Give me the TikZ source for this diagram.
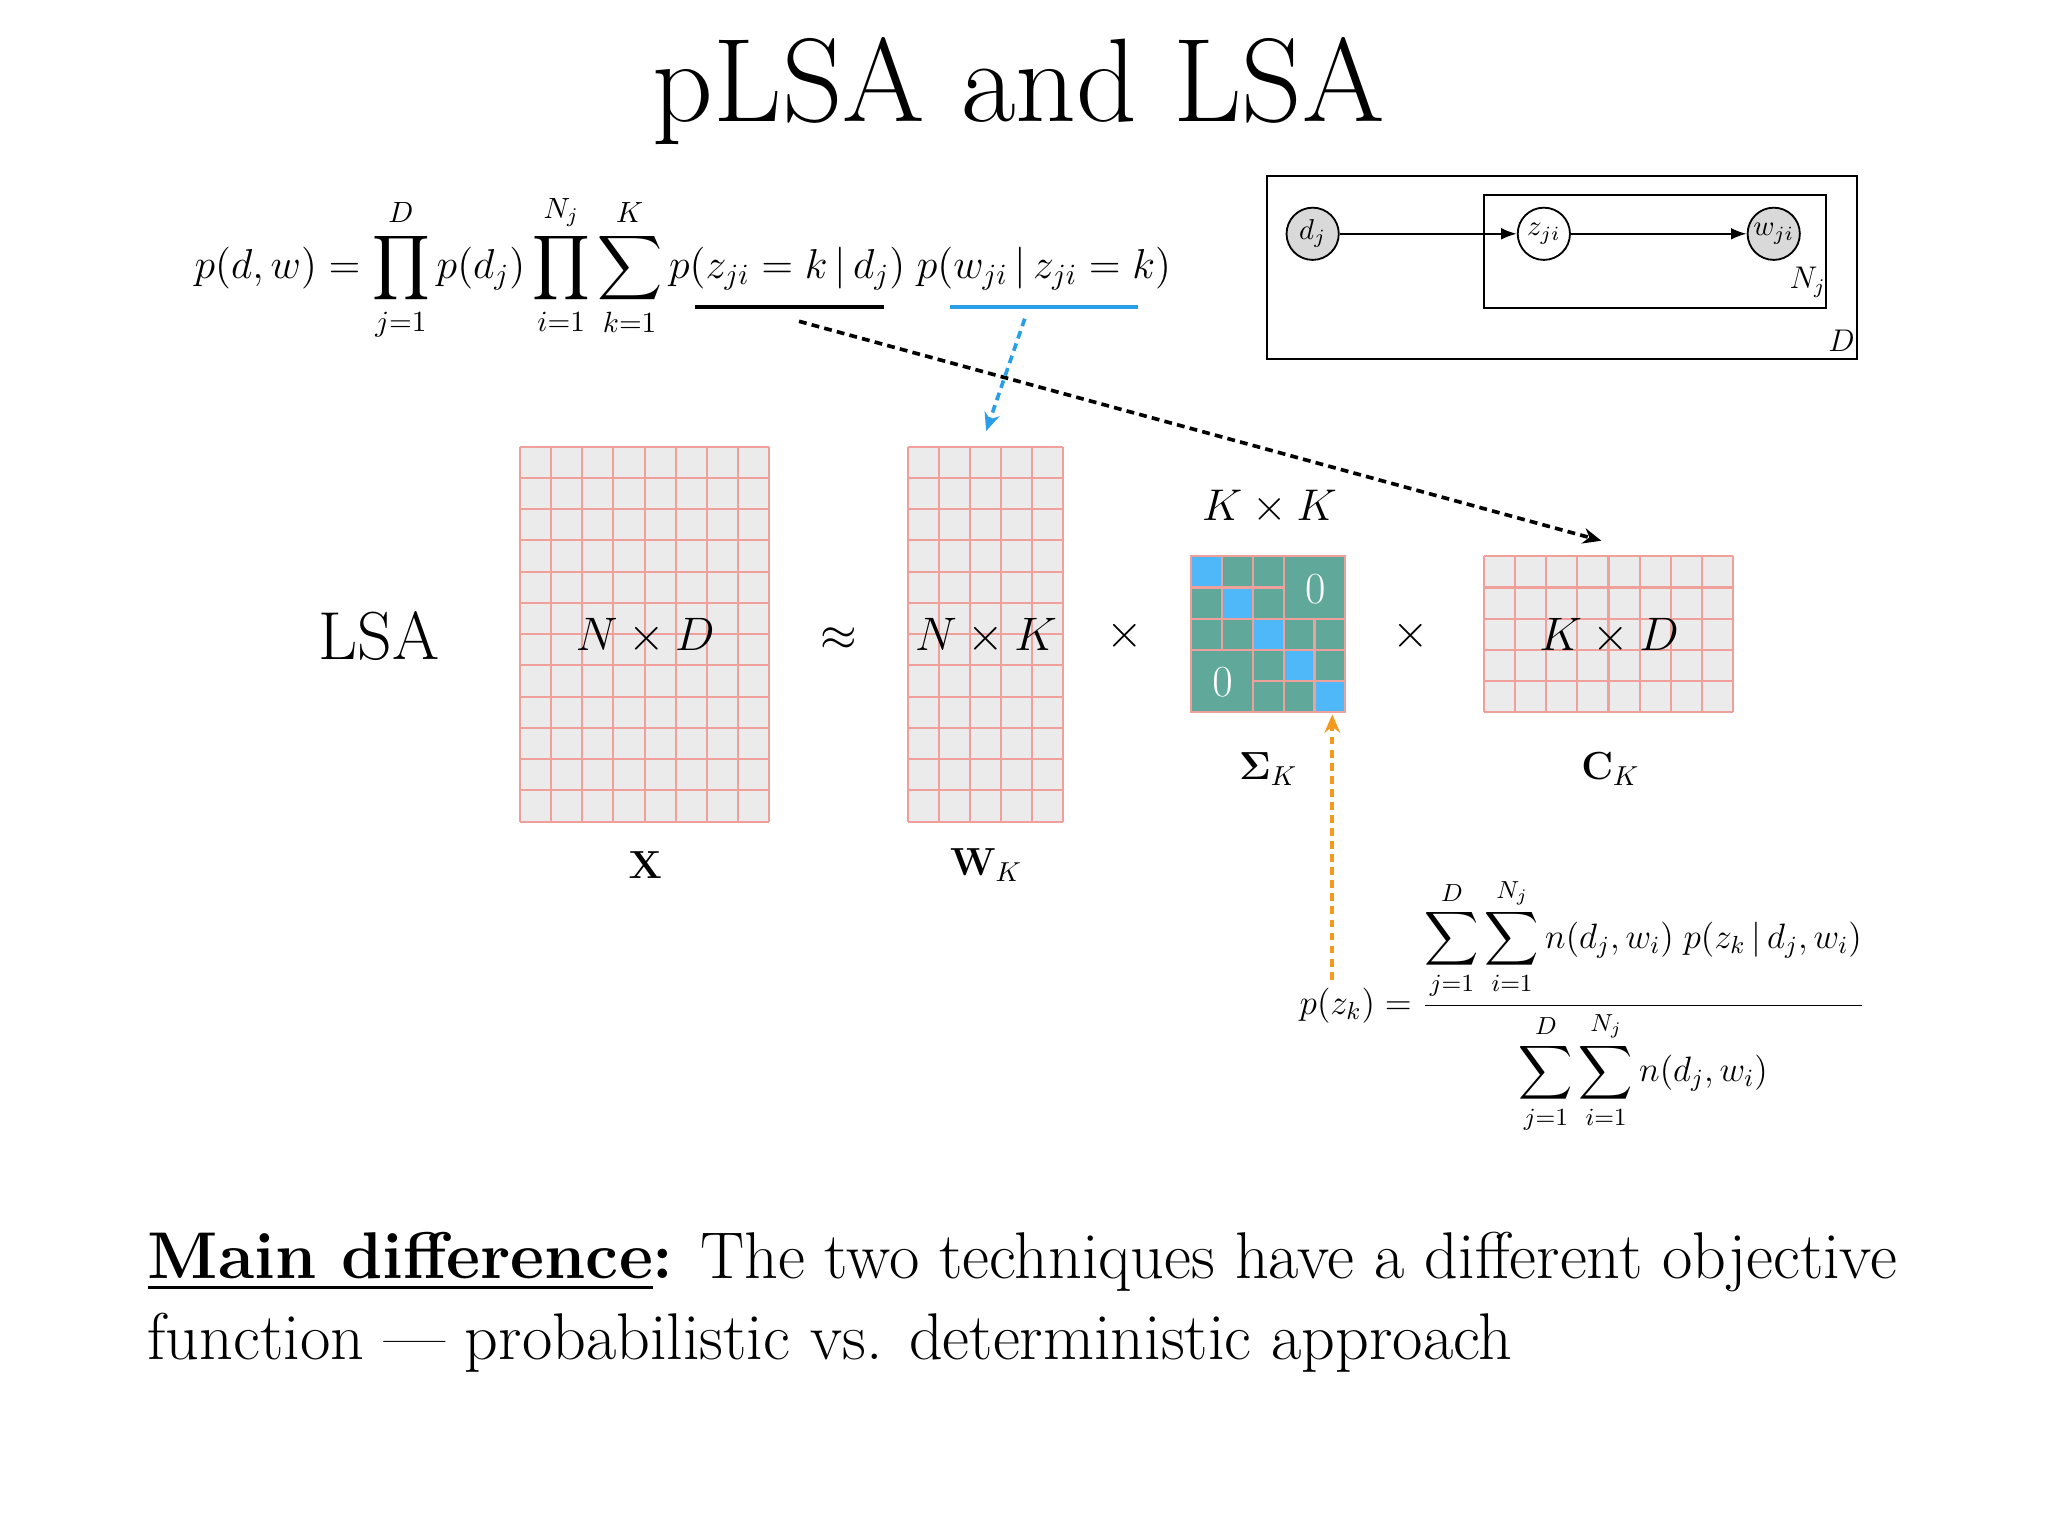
\RequirePackage{fix-cm}
\documentclass[tikz,border=0pt]{standalone}
\usepackage{amsmath}
\usetikzlibrary{arrows.meta,calc}
\definecolor{gridc}{HTML}{F0A09A}
\definecolor{cellc}{HTML}{EBEBEB}
\definecolor{tealc}{HTML}{5FA89A}
\definecolor{bluec}{HTML}{4FB8F8}
\definecolor{orangec}{HTML}{F39A1E}
\definecolor{arrblue}{HTML}{2A9FE8}
\tikzset{
  gl/.style={draw=gridc, line width=0.8pt},
  fs/.style={font=\fontsize{#1}{#1}\selectfont},
  pnode/.style={circle, draw, line width=0.7pt, minimum size=20pt, inner sep=0pt, font=\fontsize{11}{11}\selectfont},
  plate/.style={draw, line width=0.7pt},
  ptr/.style={line width=1.4pt, dash pattern=on 3pt off 2pt, -{Stealth[length=7pt,width=6pt]}},
}
\newcommand{\mgrid}[6]{% x y w h cols rows
  \fill[cellc] (#1,#2) rectangle ++(#3,#4);
  \foreach \i in {0,...,#5} \draw[gl] ({#1+\i*#3/#5},#2) -- ++(0,#4);
  \foreach \j in {0,...,#6} \draw[gl] (#1,{#2+\j*#4/#6}) -- ++(#3,0);
}
\begin{document}
\begin{tikzpicture}[x=0.5pt,y=-0.5pt]
\useasboundingbox (0,0) rectangle (1568,1176);
\node[fs=45.5] (title) at (780,70) {pLSA and LSA};

% top equation
\node[fs=16,anchor=west] (eq) at (142,205) {$\displaystyle p(d,w)=\prod_{j=1}^{D}p(d_j)\prod_{i=1}^{N_j}\sum_{k=1}^{K}p(z_{ji}=k\,|\,d_j)\;p(w_{ji}\,|\,z_{ji}=k)$};
\draw[line width=1.5pt] (532,235) coordinate (ul1a) -- (677,235) coordinate (ul1b);
\draw[arrblue,line width=1.5pt] (727,235) coordinate (ul2a) -- (871,235) coordinate (ul2b);

% plate model
\draw[plate] (970,135) rectangle (1422,275);
\draw[plate] (1136,149) rectangle (1398,236);
\node[pnode,fill=black!15] (dj) at (1005,179) {$d_j$};
\node[pnode,fill=white] (zji) at (1182,179) {$z_{ji}$};
\node[pnode,fill=black!15] (wji) at (1358,179) {$w_{ji}$};
\draw[line width=0.8pt,-{Latex[length=6pt]}] (dj) -- (zji);
\draw[line width=0.8pt,-{Latex[length=6pt]}] (zji) -- (wji);
\node[fs=12] (nj) at (1384,216) {$N_j$};
\node[fs=12] (dd) at (1410,261) {$D$};

% matrices
\mgrid{398}{342}{191}{287}{8}{12}
\mgrid{695}{342}{119}{287}{5}{12}
\mgrid{1136}{426}{191}{119}{8}{5}
\node[fs=18] (nd) at (494,487) {$N\times D$};
\node[fs=18] (nk) at (755,487) {$N\times K$};
\node[fs=18] (kd) at (1232,487) {$K\times D$};

% Sigma
\fill[tealc] (912,426) rectangle (1030,545);
\foreach \c in {0,...,4} \fill[bluec] ({912+\c*23.6},{426+\c*23.8}) rectangle ++(23.6,23.8);
\foreach \c in {0,...,4}{\foreach \r in {0,...,4}{
  \pgfmathtruncatemacro{\skip}{((\c>2)&&(\r<2))||((\c<2)&&(\r>2)) ? 1 : 0}
  \ifnum\skip=0 \draw[gl] ({912+\c*23.6},{426+\r*23.8}) rectangle ++(23.6,23.8);\fi
}}
\draw[gl] ({912+3*23.6},426) rectangle ++(47.2,47.6);
\draw[gl] (912,{426+3*23.8}) rectangle ++(47.2,47.6);
\node[fs=17,text=white] (z1) at (1007,451) {$0$};
\node[fs=17,text=white] (z2) at (936,522) {$0$};
\coordinate (sigtip) at (1020,547);
\coordinate (cktop) at (1226,414);
\coordinate (wktop) at (755,330);

\node[fs=17] (kk) at (972,388) {$K\times K$};
\node[fs=26] (lsa) at (290,487) {LSA};
\node[fs=18] (ap) at (642,489) {$\approx$};
\node[fs=18] (t1) at (861,487) {$\times$};
\node[fs=18] (t2) at (1080,487) {$\times$};
\node[fs=15] (lx) at (494,662) {$\mathbf{X}$};
\node[fs=15] (lw) at (755,662) {$\mathbf{W}_K$};
\node[fs=15] (ls) at (971,589) {$\mathbf{\Sigma}_K$};
\node[fs=15] (lc) at (1233,589) {$\mathbf{C}_K$};

% p(z_k)
\node[fs=13.5,anchor=west] (pz) at (988,770) {$\displaystyle p(z_k)=\frac{\displaystyle\sum_{j=1}^{D}\sum_{i=1}^{N_j}n(d_j,w_i)\;p(z_k\,|\,d_j,w_i)}{\displaystyle\sum_{j=1}^{D}\sum_{i=1}^{N_j}n(d_j,w_i)}$};
\coordinate (pzt) at (1020,750);

% pointers
\draw[ptr] ($(ul1a)!0.55!(ul1b)+(0,11)$) -- (cktop);
\draw[ptr,arrblue] ($(ul2a)!0.4!(ul2b)+(0,9)$) -- (wktop);
\draw[ptr,orangec] (pzt) -- (sigtip);

\node[fs=25.3,anchor=west,align=left] (main) at (106,997) {\underline{\textbf{Main difference}}\textbf{:} The two techniques have a different objective\\[6pt] function --- probabilistic vs. deterministic approach};
\end{tikzpicture}
\end{document}
